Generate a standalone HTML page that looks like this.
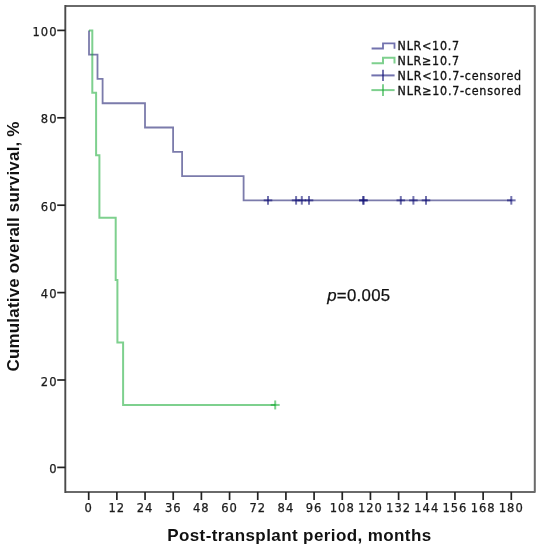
<!DOCTYPE html>
<html><head><meta charset="utf-8"><title>Kaplan-Meier survival curve</title>
<style>
html,body{margin:0;padding:0;background:#fff;}
body{width:542px;height:550px;overflow:hidden;}
svg{display:block;}
.tk{font-family:'DejaVu Sans Condensed', 'DejaVu Sans', 'Liberation Sans', sans-serif;font-size:12.8px;letter-spacing:1px;fill:#1a1a1a;stroke:#1a1a1a;stroke-width:0.25px;}
.lg{font-family:'DejaVu Sans Condensed', 'DejaVu Sans', 'Liberation Sans', sans-serif;font-size:12.4px;fill:#111;stroke:#111;stroke-width:0.3px;}
.pv{font-family:"Liberation Sans", sans-serif;font-size:16.8px;fill:#111;stroke:#111;stroke-width:0.25px;}
.ax{font-family:'Liberation Sans', sans-serif;font-size:17px;font-weight:bold;fill:#111;}
</style></head>
<body>
<svg width="542" height="550" viewBox="0 0 542 550">
<rect width="542" height="550" fill="#fff"/>
<path d="M65.3,6.0 H534.8 V491.9 H65.3" fill="none" stroke="#6a6a6a" stroke-width="2" stroke-linejoin="round"/>
<path d="M65.3,5.0 V492.9" fill="none" stroke="#4a4a4a" stroke-width="1.9"/>
<line x1="57.2" y1="467.40" x2="65.3" y2="467.40" stroke="#222" stroke-width="1.7"/>
<text x="57.5" y="472.90" text-anchor="end" class="tk">0</text>
<line x1="57.2" y1="380.00" x2="65.3" y2="380.00" stroke="#222" stroke-width="1.7"/>
<text x="57.5" y="385.50" text-anchor="end" class="tk">20</text>
<line x1="57.2" y1="292.60" x2="65.3" y2="292.60" stroke="#222" stroke-width="1.7"/>
<text x="57.5" y="298.10" text-anchor="end" class="tk">40</text>
<line x1="57.2" y1="205.20" x2="65.3" y2="205.20" stroke="#222" stroke-width="1.7"/>
<text x="57.5" y="210.70" text-anchor="end" class="tk">60</text>
<line x1="57.2" y1="117.80" x2="65.3" y2="117.80" stroke="#222" stroke-width="1.7"/>
<text x="57.5" y="123.30" text-anchor="end" class="tk">80</text>
<line x1="57.2" y1="30.40" x2="65.3" y2="30.40" stroke="#222" stroke-width="1.7"/>
<text x="57.5" y="35.90" text-anchor="end" class="tk">100</text>
<line x1="88.70" y1="491.9" x2="88.70" y2="500" stroke="#222" stroke-width="1.7"/>
<text x="88.70" y="512.4" text-anchor="middle" class="tk">0</text>
<line x1="116.87" y1="491.9" x2="116.87" y2="500" stroke="#222" stroke-width="1.7"/>
<text x="116.87" y="512.4" text-anchor="middle" class="tk">12</text>
<line x1="145.05" y1="491.9" x2="145.05" y2="500" stroke="#222" stroke-width="1.7"/>
<text x="145.05" y="512.4" text-anchor="middle" class="tk">24</text>
<line x1="173.22" y1="491.9" x2="173.22" y2="500" stroke="#222" stroke-width="1.7"/>
<text x="173.22" y="512.4" text-anchor="middle" class="tk">36</text>
<line x1="201.39" y1="491.9" x2="201.39" y2="500" stroke="#222" stroke-width="1.7"/>
<text x="201.39" y="512.4" text-anchor="middle" class="tk">48</text>
<line x1="229.57" y1="491.9" x2="229.57" y2="500" stroke="#222" stroke-width="1.7"/>
<text x="229.57" y="512.4" text-anchor="middle" class="tk">60</text>
<line x1="257.74" y1="491.9" x2="257.74" y2="500" stroke="#222" stroke-width="1.7"/>
<text x="257.74" y="512.4" text-anchor="middle" class="tk">72</text>
<line x1="285.91" y1="491.9" x2="285.91" y2="500" stroke="#222" stroke-width="1.7"/>
<text x="285.91" y="512.4" text-anchor="middle" class="tk">84</text>
<line x1="314.09" y1="491.9" x2="314.09" y2="500" stroke="#222" stroke-width="1.7"/>
<text x="314.09" y="512.4" text-anchor="middle" class="tk">96</text>
<line x1="342.26" y1="491.9" x2="342.26" y2="500" stroke="#222" stroke-width="1.7"/>
<text x="342.26" y="512.4" text-anchor="middle" class="tk">108</text>
<line x1="370.43" y1="491.9" x2="370.43" y2="500" stroke="#222" stroke-width="1.7"/>
<text x="370.43" y="512.4" text-anchor="middle" class="tk">120</text>
<line x1="398.61" y1="491.9" x2="398.61" y2="500" stroke="#222" stroke-width="1.7"/>
<text x="398.61" y="512.4" text-anchor="middle" class="tk">132</text>
<line x1="426.78" y1="491.9" x2="426.78" y2="500" stroke="#222" stroke-width="1.7"/>
<text x="426.78" y="512.4" text-anchor="middle" class="tk">144</text>
<line x1="454.95" y1="491.9" x2="454.95" y2="500" stroke="#222" stroke-width="1.7"/>
<text x="454.95" y="512.4" text-anchor="middle" class="tk">156</text>
<line x1="483.13" y1="491.9" x2="483.13" y2="500" stroke="#222" stroke-width="1.7"/>
<text x="483.13" y="512.4" text-anchor="middle" class="tk">168</text>
<line x1="511.30" y1="491.9" x2="511.30" y2="500" stroke="#222" stroke-width="1.7"/>
<text x="511.30" y="512.4" text-anchor="middle" class="tk">180</text>
<path d="M89,30.4 V54.70 H97.5 V78.95 H102.6 V103.25 H145 V127.50 H173.1 V151.80 H182.1 V176.05 H243.6 V200.35 H511.3" fill="none" stroke="rgb(35,35,115)" stroke-width="1.8" stroke-opacity="0.6"/>
<path d="M89,30.4 H92.3 V92.85 H96.1 V155.25 H99.4 V217.70 H115.7 V280.10 H117.4 V342.55 H123.1 V404.95 H275.2" fill="none" stroke="rgb(20,170,50)" stroke-width="2" stroke-opacity="0.55"/>
<path d="M263.70,200.35 H272.30" stroke="rgb(20,20,120)" stroke-width="2" fill="none" stroke-opacity="0.6"/><path d="M268.00,196.05 V204.65" stroke="rgb(20,20,120)" stroke-width="2" fill="none" stroke-opacity="0.6"/>
<path d="M291.80,200.35 H300.40" stroke="rgb(20,20,120)" stroke-width="2" fill="none" stroke-opacity="0.6"/><path d="M296.10,196.05 V204.65" stroke="rgb(20,20,120)" stroke-width="2" fill="none" stroke-opacity="0.6"/>
<path d="M297.50,200.35 H306.10" stroke="rgb(20,20,120)" stroke-width="2" fill="none" stroke-opacity="0.6"/><path d="M301.80,196.05 V204.65" stroke="rgb(20,20,120)" stroke-width="2" fill="none" stroke-opacity="0.6"/>
<path d="M304.70,200.35 H313.30" stroke="rgb(20,20,120)" stroke-width="2" fill="none" stroke-opacity="0.6"/><path d="M309.00,196.05 V204.65" stroke="rgb(20,20,120)" stroke-width="2" fill="none" stroke-opacity="0.6"/>
<path d="M359.10,200.35 H367.70" stroke="rgb(20,20,120)" stroke-width="2" fill="none" stroke-opacity="0.6"/><path d="M363.40,196.05 V204.65" stroke="rgb(20,20,120)" stroke-width="2" fill="none" stroke-opacity="0.6"/>
<path d="M359.10,200.35 H367.70" stroke="rgb(20,20,120)" stroke-width="2" fill="none" stroke-opacity="0.6"/><path d="M363.40,196.05 V204.65" stroke="rgb(20,20,120)" stroke-width="2" fill="none" stroke-opacity="0.6"/>
<path d="M396.50,200.35 H405.10" stroke="rgb(20,20,120)" stroke-width="2" fill="none" stroke-opacity="0.6"/><path d="M400.80,196.05 V204.65" stroke="rgb(20,20,120)" stroke-width="2" fill="none" stroke-opacity="0.6"/>
<path d="M409.10,200.35 H417.70" stroke="rgb(20,20,120)" stroke-width="2" fill="none" stroke-opacity="0.6"/><path d="M413.40,196.05 V204.65" stroke="rgb(20,20,120)" stroke-width="2" fill="none" stroke-opacity="0.6"/>
<path d="M421.70,200.35 H430.30" stroke="rgb(20,20,120)" stroke-width="2" fill="none" stroke-opacity="0.6"/><path d="M426.00,196.05 V204.65" stroke="rgb(20,20,120)" stroke-width="2" fill="none" stroke-opacity="0.6"/>
<path d="M507.00,200.35 H515.60" stroke="rgb(20,20,120)" stroke-width="2" fill="none" stroke-opacity="0.6"/><path d="M511.30,196.05 V204.65" stroke="rgb(20,20,120)" stroke-width="2" fill="none" stroke-opacity="0.6"/>
<path d="M270.70,404.95 H279.70" stroke="rgb(20,170,50)" stroke-width="2" fill="none" stroke-opacity="0.55"/><path d="M275.20,400.45 V409.45" stroke="rgb(20,170,50)" stroke-width="2" fill="none" stroke-opacity="0.55"/>
<path d="M371.6,48.5 H383 V43.4 H394.5 V48.8" fill="none" stroke="rgb(20,20,120)" stroke-width="1.8" stroke-opacity="0.6"/>
<path d="M371.6,63.2 H383 V57.7 H394.5 V63.5" fill="none" stroke="rgb(20,170,50)" stroke-width="2" stroke-opacity="0.55"/>
<path d="M371.40,75.40 H394.60" stroke="rgb(20,20,120)" stroke-width="2" fill="none" stroke-opacity="0.6"/><path d="M383.00,69.70 V81.10" stroke="rgb(20,20,120)" stroke-width="2" fill="none" stroke-opacity="0.6"/>
<path d="M371.40,90.10 H394.60" stroke="rgb(20,170,50)" stroke-width="2" fill="none" stroke-opacity="0.55"/><path d="M383.00,84.20 V96.00" stroke="rgb(20,170,50)" stroke-width="2" fill="none" stroke-opacity="0.55"/>
<text x="397.6" y="50.40" class="lg" textLength="61.5" lengthAdjust="spacing">NLR&lt;10.7</text>
<text x="397.6" y="65.20" class="lg" textLength="61.5" lengthAdjust="spacing">NLR&#8805;10.7</text>
<text x="397.6" y="80.00" class="lg" textLength="123.5" lengthAdjust="spacing">NLR&lt;10.7-censored</text>
<text x="397.6" y="94.80" class="lg" textLength="123.5" lengthAdjust="spacing">NLR&#8805;10.7-censored</text>
<text x="327.2" y="301.2" class="pv" textLength="63" lengthAdjust="spacing"><tspan font-style="italic">p</tspan>=0.005</text>
<text x="299.2" y="540.7" text-anchor="middle" class="ax" textLength="264" lengthAdjust="spacing">Post-transplant period, months</text>
<text transform="translate(19.4,246.5) rotate(-90)" text-anchor="middle" class="ax" textLength="250" lengthAdjust="spacing">Cumulative overall survival, %</text>
</svg>
</body></html>
